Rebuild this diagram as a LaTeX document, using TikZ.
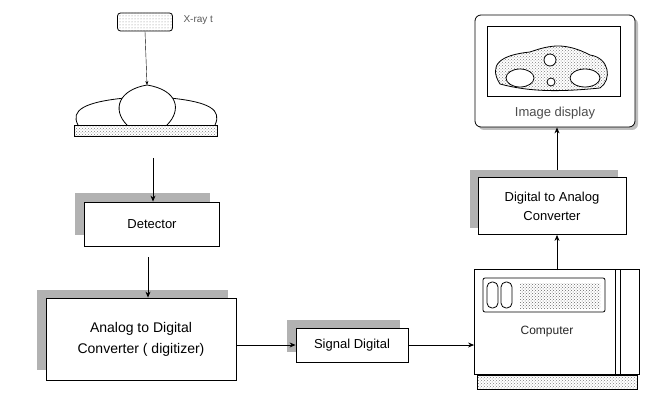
\documentclass[tikz,border=0pt]{standalone}
\usepackage{fontspec}
\setmainfont{Liberation Sans}
\usetikzlibrary{arrows.meta,patterns}
\begin{document}
\begin{tikzpicture}[x=1pt,y=-1pt,
  box/.style={draw,fill=white,thick,align=center,font=\fontsize{13}{19}\selectfont,inner sep=0},
  shad/.style={fill=gray!60,draw=none},
  arr/.style={-{Stealth[length=6pt,width=5pt]},thick}]
\useasboundingbox (0,0) rectangle (672,409);
% x-ray tube
\node[draw,thick,fill=white,rounded corners=3pt,minimum width=55pt,minimum height=18pt,pattern=dots,pattern color=gray] (tube) at (145,22) {};
\node[anchor=west,font=\fontsize{10}{11}\selectfont,text=gray!70!black] (xl) at (180,20) {X-ray t};
% patient
\draw[thick] (78,125) .. controls (70,110) and (85,102) .. (125,98);
\draw[thick] (215,125) .. controls (222,110) and (210,102) .. (170,98);
\draw[thick,fill=white] (127,125) .. controls (112,110) and (118,90) .. (147,85) .. controls (178,90) and (182,110) .. (167,125);
\coordinate (head) at (147,85);
\draw[thin,-{Stealth[length=4pt,width=3pt]}] (tube.south) -- (head);
\node[draw,thick,minimum width=143pt,minimum height=11pt,pattern=crosshatch dots,pattern color=gray] (table) at (146,131) {};
% detector
\fill[shad] (75,193) rectangle (210,235);
\node[box,minimum width=135pt,minimum height=44pt] (det) at (152,224) {Detector};
\coordinate (a1) at (153,158);
\draw[arr] (a1) -- (a1 |- det.north);
% ADC
\fill[shad] (37,290) rectangle (228,370);
\node[box,minimum width=190pt,minimum height=82pt,font=\fontsize{14}{21}\selectfont] (adc) at (141,339) {Analog to Digital\\Converter ( digitizer)};
\coordinate (a2) at (148,257);
\draw[arr] (a2) -- (a2 |- adc.north);
% signal digital
\fill[shad] (287,320) rectangle (400,352);
\node[box,minimum width=112pt,minimum height=34pt] (sig) at (352,345) {Signal Digital};
\draw[arr] (adc.east |- sig.west) -- (sig.west);
% computer
\node[draw,thick,minimum width=165pt,minimum height=105pt,inner sep=0] (comp) at (557,322) {};
\draw[thick] (615,270) -- (615,375) (620,270) -- (620,375);
\draw[thick,rounded corners=2pt] (483,278) rectangle (605,312);
\draw[thick,rounded corners=5pt] (487,282) rectangle (498,308);
\draw[thick,rounded corners=5pt] (501,282) rectangle (512,308);
\fill[pattern=crosshatch dots,pattern color=gray!80!black] (520,283) rectangle (600,308);
\node[font=\fontsize{12}{14}\selectfont,text=gray!30!black] (cl) at (547,332) {Computer};
\node[draw,minimum width=160pt,minimum height=14pt,pattern=crosshatch dots,pattern color=gray] (base) at (557,382) {};
\draw[arr] (sig.east) -- (comp.west |- sig.east);
% DAC
\fill[shad] (470,170) rectangle (618,228);
\node[box,minimum width=148pt,minimum height=57pt] (dac) at (552,206) {Digital to Analog\\Converter};
\coordinate (a3) at (557,270);
\draw[arr] (a3) -- (a3 |- dac.south);
% image display
\fill[gray!50,rounded corners=6pt] (478,18) rectangle (638,130);
\node[draw,thick,rounded corners=6pt,minimum width=160pt,minimum height=112pt,fill=white] (disp) at (555,71) {};
\draw[thick] (487,26) rectangle (620,96);
\draw[thick,pattern=crosshatch dots,pattern color=gray] (500,84) .. controls (488,65) and (500,55) .. (530,52) .. controls (550,45) and (565,42) .. (590,55) .. controls (610,58) and (612,80) .. (600,88) .. controls (560,92) and (530,92) .. (500,84) -- cycle;
\draw[thick,fill=white] (520,78) ellipse (14pt and 9pt);
\draw[thick,fill=white] (585,78) ellipse (15pt and 9pt);
\draw[thick,fill=white] (550,60) circle (6pt);
\draw[thick,fill=white] (551,82) circle (4pt);
\node[font=\fontsize{13}{15}\selectfont,text=gray!60!black] (dl) at (555,113) {Image display};
\coordinate (a4) at (557,170);
\draw[arr] (a4) -- (a4 |- disp.south);
\end{tikzpicture}
\end{document}
